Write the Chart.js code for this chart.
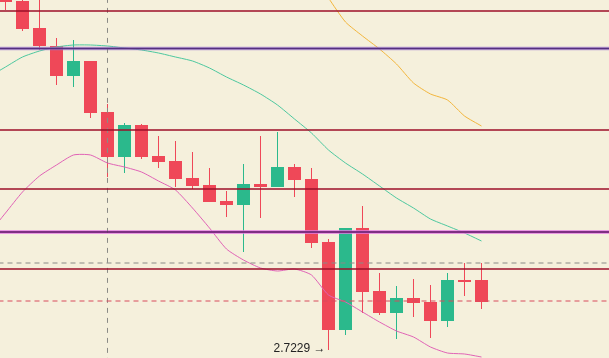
<!DOCTYPE html>
<html><head><meta charset="utf-8">
<script src="https://cdn.jsdelivr.net/npm/chart.js@4"></script>
<style>html,body{margin:0;padding:0;background:#f5f0dc;overflow:hidden}</style>
</head><body>
<canvas id="c" width="609" height="358"></canvas>
<script>
// candle index (time slots)
const candles = [0,1,2,3,4,5,6,7,8,9,10,11,12,13,14,15,16,17,18,19,20,21,22,23,24,25,26,27,28];
const opens  = [3.0789,3.0719,3.0449,3.0269,2.9969,3.0119,2.9609,2.9159,2.9479,2.9169,2.9119,2.8949,2.8879,2.8719,2.8679,2.8889,2.8859,2.9059,2.8939,2.8309,2.7429,2.8449,2.7819,2.7599,2.7749,2.7709,2.7519,2.7929,2.7929];
const highs  = [3.0829,3.0789,3.0759,3.0349,3.0329,3.0119,2.9689,2.9499,2.9489,2.9369,2.9319,2.9209,2.9049,2.8819,2.9089,2.9369,2.9409,2.9089,2.9049,2.8339,2.8449,2.8669,2.7999,2.7869,2.7939,2.7879,2.7999,2.8099,2.8099];
const lows   = [3.0629,3.0419,3.0229,2.9879,2.9859,2.9549,2.8959,2.8999,2.9139,2.9049,2.8859,2.8839,2.8709,2.8559,2.8209,2.8549,2.8859,2.8759,2.8249,2.7229,2.7379,2.7599,2.7579,2.7339,2.7559,2.7349,2.7459,2.7769,2.7639];
const closes = [3.0709,3.0439,3.0269,2.9969,3.0119,2.9599,2.9159,2.9479,2.9159,2.9109,2.8939,2.8869,2.8709,2.8679,2.8889,2.8859,2.9059,2.8929,2.8299,2.7429,2.8449,2.7809,2.7599,2.7749,2.7699,2.7519,2.7929,2.7909,2.7709];
// moving averages (slots -1 .. 28)
const maIndex = [-1,0,1,2,3,4,5,6,7,8,9,10,11,12,13,14,15,16,17,18,19,20,21,22,23,24,25,26,27,28];
const maTeal = [2.9959,3.0059,3.0159,3.0219,3.0259,3.0279,3.0279,3.0269,3.0249,3.0229,3.0199,3.0159,3.0119,3.0049,2.9959,2.9879,2.9789,2.9679,2.9539,2.9399,2.9229,2.9099,2.8989,2.8869,2.8749,2.8649,2.8539,2.8469,2.8399,2.8319];
const maOrange = [null,null,null,null,null,null,null,null,null,null,null,null,null,null,null,null,null,null,null,3.1009,3.0749,3.0509,3.0369,3.0239,3.0089,2.9899,2.9789,2.9729,2.9569,2.9469];
const maPink = [2.8389,2.8599,2.8809,2.8969,2.9079,2.9179,2.9179,2.9099,2.9059,2.9009,2.8919,2.8829,2.8649,2.8449,2.8239,2.8129,2.8049,2.8019,2.8039,2.7979,2.7779,2.7709,2.7609,2.7509,2.7419,2.7359,2.7259,2.7199,2.7189,2.7159];
// horizontal levels
const redLevels = [3.0619, 2.9429, 2.8839, 2.8039];
const purpleLevel = 3.0244;
const magentaLevel = 2.8409;
const greyDashLevel = 2.8099;
const redDashLevel = 2.7719;
const crossIndex = 6;
const lowLabelIndex = 19;

const yMin = 2.7149, yMax = 3.0729;
const xMin = -0.3235, xMax = 35.5;

const RED = '#ef4858', GREEN = '#2bb98c';
const colors = candles.map((c,i)=> closes[i] >= opens[i] ? GREEN : RED);

function hline(v, color, width, dash, order){
  return {type:'line', data:[{x:-2,y:v},{x:40,y:v}], borderColor:color, borderWidth:width,
    borderDash:dash||[], pointRadius:0, fill:false, order:order};
}
function maLine(arr, color){
  return {type:'line', data:maIndex.map((c,i)=>({x:c,y:arr[i]})), borderColor:color, borderWidth:1,
    pointRadius:0, fill:false, tension:0.2, spanGaps:false, order:3};
}

const datasets = [];
redLevels.forEach(v=>datasets.push(hline(v,'#9c0f28',1.3,null,1)));
datasets.push(hline(purpleLevel,'rgba(160,120,210,0.7)',3.5,null,2));
datasets.push(hline(purpleLevel,'#55307f',1.6,null,1));
datasets.push(hline(magentaLevel,'#e47ae6',3.5,null,2));
datasets.push(hline(magentaLevel,'#5c1860',1.6,null,1));
datasets.push(hline(greyDashLevel,'#8a8a86',1,[5,4],1));
datasets.push(hline(redDashLevel,'#d84a5c',1,[5,4],1));
datasets.push({type:'line', data:[{x:crossIndex,y:2.6},{x:crossIndex,y:3.2}], borderColor:'#8a8a86',
  borderWidth:1, borderDash:[5,5], pointRadius:0, fill:false, order:1});
datasets.push(maLine(maTeal,'#4cc89f'));
datasets.push(maLine(maOrange,'#f3b63c'));
datasets.push(maLine(maPink,'#e163b6'));
datasets.push({type:'bar', data:candles.map((c,i)=>({x:c,y:[lows[i],highs[i]]})), backgroundColor:colors,
  barThickness:1, grouped:false, borderWidth:0, inflateAmount:0, order:6});
datasets.push({type:'bar', data:candles.map((c,i)=>({x:c,y:[opens[i],closes[i]]})), backgroundColor:colors,
  barThickness:13, grouped:false, borderWidth:0, inflateAmount:0, order:5});

const bgPlugin = {id:'bg', beforeDraw(chart){const ctx=chart.ctx; ctx.save(); ctx.fillStyle='#f5f0dc'; ctx.fillRect(0,0,chart.width,chart.height); ctx.restore();}};
const labelPlugin = {id:'lowlabel', afterDraw(chart){
  const xs=chart.scales.x, ys=chart.scales.y, ctx=chart.ctx;
  const x = xs.getPixelForValue(candles[lowLabelIndex]);
  const y = ys.getPixelForValue(lows[lowLabelIndex]);
  ctx.save(); ctx.fillStyle='#222'; ctx.font='12px "Liberation Sans", Arial, sans-serif';
  ctx.textAlign='right'; ctx.textBaseline='middle';
  ctx.fillText(lows[lowLabelIndex].toFixed(4)+' \u2192', x-3, y-1);
  ctx.restore();
}};

new Chart(document.getElementById('c'), {
  type:'bar',
  data:{datasets},
  options:{
    responsive:false, animation:false, events:[],
    layout:{padding:0},
    plugins:{legend:{display:false}, tooltip:{enabled:false}},
    scales:{
      x:{type:'linear', min:xMin, max:xMax, offset:false, display:false},
      y:{type:'linear', min:yMin, max:yMax, display:false, beginAtZero:false}
    }
  },
  plugins:[bgPlugin,labelPlugin]
});
</script>
</body></html>
